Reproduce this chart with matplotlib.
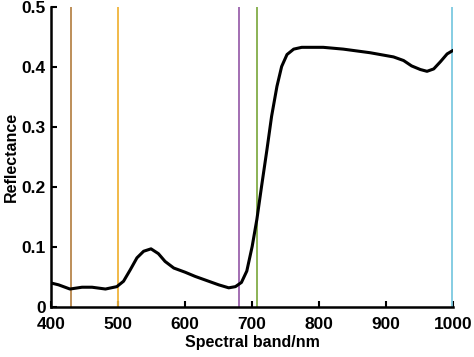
import numpy as np
import matplotlib.pyplot as plt

plt.rcParams['font.family'] = ['Liberation Sans', 'DejaVu Sans']
plt.rcParams['font.weight'] = 'bold'

# reflectance spectrum
wavelength = [400, 411, 428, 446, 461, 481, 498, 508, 518, 528, 538, 549, 560,
              570, 583, 600, 615, 635, 650, 665, 675, 684, 692, 700, 707, 714,
              722, 729, 737, 744, 752, 762, 774, 806, 836, 876, 911, 926, 938,
              951, 961, 971, 981, 991, 1000]
reflectance = [0.040, 0.037, 0.030, 0.033, 0.033, 0.030, 0.034, 0.043, 0.062,
               0.082, 0.093, 0.097, 0.089, 0.076, 0.065, 0.058, 0.051, 0.043,
               0.037, 0.032, 0.034, 0.041, 0.060, 0.101, 0.146, 0.201, 0.262,
               0.318, 0.368, 0.401, 0.421, 0.430, 0.433, 0.433, 0.430, 0.424,
               0.417, 0.411, 0.402, 0.396, 0.393, 0.397, 0.409, 0.422, 0.428]

# marked bands
bands = [430, 500, 680, 707, 998]
band_colors = ['#b8864b', '#f0b43a', '#9b62ad', '#82ad48', '#7cc9e0']

fig = plt.figure(figsize=(4.74, 3.57), dpi=100)
ax = fig.add_axes([0.108, 0.14, 0.848, 0.84])

for b, c in zip(bands, band_colors):
    ax.axvline(b, color=c, lw=1.3)

ax.plot(wavelength, reflectance, color='black', lw=2.2,
        solid_joinstyle='round', solid_capstyle='round')

ax.set_xlim(400, 1000)
ax.set_ylim(0, 0.5)
ax.set_xticks([400, 500, 600, 700, 800, 900, 1000])
ax.set_yticks([0, 0.1, 0.2, 0.3, 0.4, 0.5])
ax.set_yticklabels(['0', '0.1', '0.2', '0.3', '0.4', '0.5'])
ax.spines['top'].set_visible(False)
ax.spines['right'].set_visible(False)
ax.spines['left'].set_linewidth(1.8)
ax.spines['bottom'].set_linewidth(1.8)
ax.tick_params(direction='in', length=4, width=1.5, labelsize=12.5)
ax.tick_params(axis='x', pad=7)
ax.tick_params(axis='y', pad=4)
for lab in ax.get_xticklabels() + ax.get_yticklabels():
    lab.set_fontweight('bold')
ax.set_xlabel('Spectral band/nm', fontsize=11.5, fontweight='bold', labelpad=2)
ax.set_ylabel('Reflectance', fontsize=11.5, fontweight='bold', labelpad=2)

fig.savefig('out.png', dpi=100)
